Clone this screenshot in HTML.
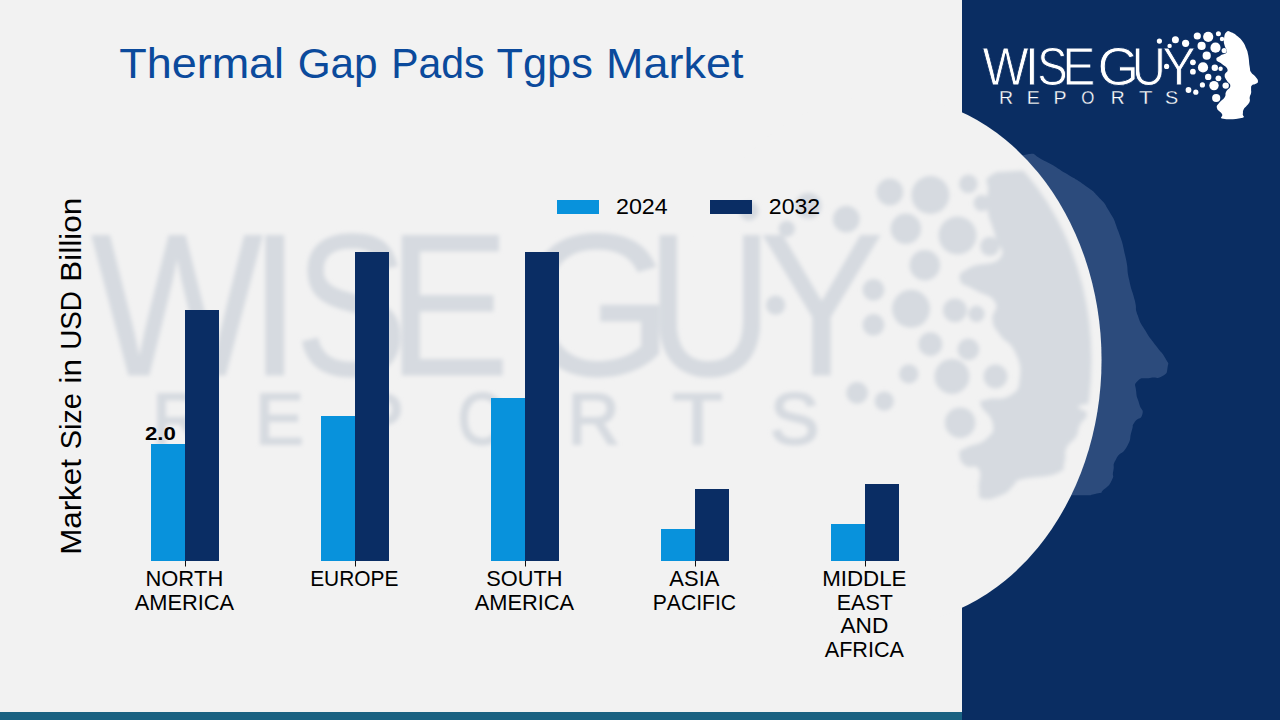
<!DOCTYPE html><html><head><meta charset="utf-8"><style>html,body{margin:0;padding:0;width:1280px;height:720px;overflow:hidden;background:#f2f2f2}svg{display:block}text{font-family:"Liberation Sans",sans-serif;font-kerning:none}</style></head><body>
<svg width="1280" height="720" viewBox="0 0 1280 720">
<defs><clipPath id="innerclip"><rect x="0" y="0" width="962" height="720"/><ellipse cx="884.8" cy="360" rx="206.75" ry="255.10000000000002"/></clipPath>
<clipPath id="lightclip"><rect x="0" y="0" width="962" height="720"/><ellipse cx="884.8" cy="360" rx="216.75" ry="265.1"/></clipPath><filter id="soft" x="-5%" y="-5%" width="110%" height="110%"><feGaussianBlur stdDeviation="2.0"/></filter></defs>
<rect width="1280" height="720" fill="#f2f2f2"/>
<rect x="962" y="0" width="318" height="720" fill="#0a2d62"/>
<path d="M985.00,190.00 C1005.67,185.33 998.00,177.87 1012.00,166.00 C1026.00,154.13 1016.27,156.17 1027.00,154.40 C1037.73,152.63 1031.27,154.40 1044.20,160.70 C1057.13,167.00 1051.97,164.87 1065.80,173.30 C1079.63,181.73 1074.87,178.17 1085.70,186.00 C1096.53,193.83 1090.47,188.37 1098.30,196.80 C1106.13,205.23 1102.57,199.90 1109.20,211.30 C1115.83,222.70 1112.80,215.97 1118.20,231.00 C1123.60,246.03 1121.73,240.07 1125.40,256.40 C1129.07,272.73 1126.10,265.47 1129.20,280.00 C1132.30,294.53 1131.87,288.23 1134.70,300.00 C1137.53,311.77 1134.17,305.13 1137.70,315.30 C1141.23,325.47 1139.20,320.33 1145.30,330.50 C1151.40,340.67 1149.37,336.63 1156.00,345.80 C1162.63,354.97 1161.33,350.87 1165.20,358.00 C1169.07,365.13 1168.63,361.10 1167.60,367.20 C1166.57,373.30 1167.97,372.73 1162.10,376.30 C1156.23,379.87 1158.13,376.37 1150.00,377.90 C1141.87,379.43 1142.30,376.33 1137.70,380.90 C1133.10,385.47 1135.70,383.97 1136.20,391.60 C1136.70,399.23 1137.17,396.17 1139.20,403.80 C1141.23,411.43 1143.80,408.40 1142.30,414.50 C1140.80,420.60 1138.27,416.50 1134.70,422.10 C1131.13,427.70 1134.17,423.13 1131.60,431.30 C1129.03,439.47 1132.10,437.43 1127.00,446.60 C1121.90,455.77 1120.87,450.67 1116.30,458.80 C1111.73,466.93 1114.80,463.87 1113.30,471.00 C1111.80,478.13 1114.87,474.10 1111.80,480.20 C1108.73,486.30 1109.70,484.73 1104.10,489.30 C1098.50,493.87 1106.20,491.87 1095.00,493.90 C1083.80,495.93 1102.17,495.03 1070.50,495.40 C1038.83,495.77 1040.17,503.47 1000.00,495.00 C959.83,486.53 966.67,575.00 950.00,470.00 C933.33,365.00 938.33,273.33 950.00,180.00 C961.67,86.67 964.33,194.67 985.00,190.00Z" fill="#2c4b7c"/>
<ellipse cx="884.8" cy="360" rx="216.75" ry="265.1" fill="#f2f2f2"/>
<g clip-path="url(#lightclip)"><g filter="url(#soft)"><g clip-path="url(#innerclip)"><g transform="matrix(3.72,0,0,3.72,-3564.13,58.07)">
<text transform="translate(982.53,85.20) scale(0.9011,1)" font-size="54.36" fill="#d6dae0" stroke="#d6dae0" stroke-width="0.25">W</text>
<text transform="translate(1024.85,85.20) scale(0.9468,1)" font-size="54.36" fill="#d6dae0" stroke="#d6dae0" stroke-width="0.25">I</text>
<text transform="translate(1037.33,85.20) scale(0.8372,1)" font-size="54.36" fill="#d6dae0" stroke="#d6dae0" stroke-width="0.25">S</text>
<text transform="translate(1062.13,85.20) scale(0.9130,1)" font-size="54.36" fill="#d6dae0" stroke="#d6dae0" stroke-width="0.25">E</text>
<text transform="translate(1097.61,85.20) scale(0.9834,1)" font-size="54.36" fill="#d6dae0" stroke="#d6dae0" stroke-width="0.25">G</text>
<text transform="translate(1131.86,85.20) scale(0.8681,1)" font-size="54.36" fill="#d6dae0" stroke="#d6dae0" stroke-width="0.25">U</text>
<text transform="translate(1162.20,85.20) scale(0.9241,1)" font-size="54.36" fill="#d6dae0" stroke="#d6dae0" stroke-width="0.25">Y</text>
<text transform="translate(999.00,103.80) scale(1.0183,1)" font-size="19.19" fill="#d6dae0" stroke="#d6dae0" stroke-width="0.55">R</text>
<text transform="translate(1026.70,103.80) scale(1.0193,1)" font-size="19.19" fill="#d6dae0" stroke="#d6dae0" stroke-width="0.55">E</text>
<text transform="translate(1053.60,103.80) scale(1.0185,1)" font-size="19.19" fill="#d6dae0" stroke="#d6dae0" stroke-width="0.55">P</text>
<text transform="translate(1081.20,103.80) scale(0.8781,1)" font-size="19.19" fill="#d6dae0" stroke="#d6dae0" stroke-width="0.55">O</text>
<text transform="translate(1110.72,103.80) scale(1.0051,1)" font-size="19.19" fill="#d6dae0" stroke="#d6dae0" stroke-width="0.55">R</text>
<text transform="translate(1138.90,103.80) scale(1.1522,1)" font-size="19.19" fill="#d6dae0" stroke="#d6dae0" stroke-width="0.55">T</text>
<text transform="translate(1165.10,103.80) scale(1.0321,1)" font-size="19.19" fill="#d6dae0" stroke="#d6dae0" stroke-width="0.55">S</text>
<circle cx="1159.4" cy="41.1" r="2.6" fill="#d6dae0"/>
<circle cx="1175.4" cy="39.7" r="3.5" fill="#d6dae0"/>
<circle cx="1169.6" cy="45.9" r="2.2" fill="#d6dae0"/>
<circle cx="1185.6" cy="43.3" r="3.6" fill="#d6dae0"/>
<circle cx="1197.3" cy="36" r="3.6" fill="#d6dae0"/>
<circle cx="1208.2" cy="36.8" r="5.1" fill="#d6dae0"/>
<circle cx="1218.4" cy="33.8" r="2.5" fill="#d6dae0"/>
<circle cx="1222" cy="39" r="2.2" fill="#d6dae0"/>
<circle cx="1201.6" cy="45.9" r="4.1" fill="#d6dae0"/>
<circle cx="1215.5" cy="47.7" r="5.1" fill="#d6dae0"/>
<circle cx="1224.2" cy="50.6" r="2.6" fill="#d6dae0"/>
<circle cx="1206.7" cy="55.7" r="4.1" fill="#d6dae0"/>
<circle cx="1192.9" cy="62.3" r="2.9" fill="#d6dae0"/>
<circle cx="1203" cy="67.4" r="5.1" fill="#d6dae0"/>
<circle cx="1214.8" cy="67.8" r="3.2" fill="#d6dae0"/>
<circle cx="1220.6" cy="68.8" r="2.2" fill="#d6dae0"/>
<circle cx="1192.9" cy="71.7" r="2.9" fill="#d6dae0"/>
<circle cx="1208.2" cy="76.9" r="3.2" fill="#d6dae0"/>
<circle cx="1218.4" cy="78.3" r="2.9" fill="#d6dae0"/>
<circle cx="1202.4" cy="84.9" r="2.6" fill="#d6dae0"/>
<circle cx="1214" cy="85.6" r="4.7" fill="#d6dae0"/>
<circle cx="1225.7" cy="85.6" r="3.2" fill="#d6dae0"/>
<circle cx="1188.5" cy="90" r="2.9" fill="#d6dae0"/>
<circle cx="1195.8" cy="92.2" r="2.6" fill="#d6dae0"/>
<circle cx="1216.2" cy="98" r="4.1" fill="#d6dae0"/>
<circle cx="1166.6" cy="66.4" r="2.6" fill="#d6dae0"/>
</g>
<path d="M990.00,176.00 C997.20,170.93 996.33,172.33 1015.00,171.00 C1033.67,169.67 1010.67,171.00 1060.00,171.00 C1109.33,171.00 1162.67,109.93 1200.00,171.00 C1237.33,232.07 1228.88,338.05 1200.00,400.00 C1171.12,461.95 1121.59,399.30 1091.70,403.30 C1061.81,407.30 1091.02,409.29 1087.90,415.00 C1084.78,420.71 1083.12,418.99 1080.00,424.70 C1076.88,430.41 1079.80,430.19 1076.20,436.40 C1072.60,442.61 1069.62,441.25 1066.50,448.00 C1063.38,454.75 1067.11,454.93 1064.50,461.70 C1061.89,468.47 1068.11,468.73 1056.70,473.40 C1045.29,478.07 1033.09,476.11 1021.70,479.20 C1010.31,482.29 1019.17,480.84 1014.00,485.00 C1008.83,489.16 1010.62,491.15 1002.30,494.80 C993.98,498.45 989.04,500.25 982.80,498.70 C976.56,497.15 979.94,496.79 978.90,489.00 C977.86,481.21 982.53,475.74 978.90,469.50 C975.27,463.26 970.47,469.76 965.30,465.60 C960.13,461.44 959.50,458.59 959.50,453.90 C959.50,449.21 958.05,452.13 965.30,448.00 C972.55,443.87 979.45,445.12 986.70,438.40 C993.95,431.68 994.05,431.63 992.50,422.80 C990.95,413.97 982.45,411.51 980.90,405.30 C979.35,399.09 978.94,402.09 986.70,399.50 C994.46,396.91 1001.17,401.33 1010.00,395.60 C1018.83,389.87 1018.47,389.63 1019.80,378.00 C1021.13,366.37 1020.28,363.47 1015.00,352.00 C1009.72,340.53 1006.00,343.53 1000.00,335.00 C994.00,326.47 993.83,328.80 992.50,320.00 C991.17,311.20 999.67,310.00 995.00,302.00 C990.33,294.00 984.33,295.87 975.00,290.00 C965.67,284.13 961.33,286.00 960.00,280.00 C958.67,274.00 959.33,273.37 970.00,267.50 C980.67,261.63 993.33,266.67 1000.00,258.00 C1006.67,249.33 998.33,247.80 995.00,235.00 C991.67,222.20 989.37,222.00 987.50,210.00 C985.63,198.00 987.33,199.07 988.00,190.00 C988.67,180.93 982.80,181.07 990.00,176.00Z" fill="#d6dae0"/>
</g></g></g>
<rect x="0" y="712" width="962" height="8" fill="#1a6282"/>
<text transform="translate(982.53,85.20) scale(0.9011,1)" font-size="54.36" fill="#ffffff" stroke="#0a2d62" stroke-width="0.9">W</text>
<text transform="translate(1024.85,85.20) scale(0.9468,1)" font-size="54.36" fill="#ffffff" stroke="#0a2d62" stroke-width="0.9">I</text>
<text transform="translate(1037.33,85.20) scale(0.8372,1)" font-size="54.36" fill="#ffffff" stroke="#0a2d62" stroke-width="0.9">S</text>
<text transform="translate(1062.13,85.20) scale(0.9130,1)" font-size="54.36" fill="#ffffff" stroke="#0a2d62" stroke-width="0.9">E</text>
<text transform="translate(1097.61,85.20) scale(0.9834,1)" font-size="54.36" fill="#ffffff" stroke="#0a2d62" stroke-width="0.9">G</text>
<text transform="translate(1131.86,85.20) scale(0.8681,1)" font-size="54.36" fill="#ffffff" stroke="#0a2d62" stroke-width="0.9">U</text>
<text transform="translate(1162.20,85.20) scale(0.9241,1)" font-size="54.36" fill="#ffffff" stroke="#0a2d62" stroke-width="0.9">Y</text>
<text transform="translate(999.00,103.80) scale(1.0183,1)" font-size="19.19" fill="#ffffff" stroke="#0a2d62" stroke-width="0.3">R</text>
<text transform="translate(1026.70,103.80) scale(1.0193,1)" font-size="19.19" fill="#ffffff" stroke="#0a2d62" stroke-width="0.3">E</text>
<text transform="translate(1053.60,103.80) scale(1.0185,1)" font-size="19.19" fill="#ffffff" stroke="#0a2d62" stroke-width="0.3">P</text>
<text transform="translate(1081.20,103.80) scale(0.8781,1)" font-size="19.19" fill="#ffffff" stroke="#0a2d62" stroke-width="0.3">O</text>
<text transform="translate(1110.72,103.80) scale(1.0051,1)" font-size="19.19" fill="#ffffff" stroke="#0a2d62" stroke-width="0.3">R</text>
<text transform="translate(1138.90,103.80) scale(1.1522,1)" font-size="19.19" fill="#ffffff" stroke="#0a2d62" stroke-width="0.3">T</text>
<text transform="translate(1165.10,103.80) scale(1.0321,1)" font-size="19.19" fill="#ffffff" stroke="#0a2d62" stroke-width="0.3">S</text>
<circle cx="1159.4" cy="41.1" r="2.6" fill="#ffffff"/>
<circle cx="1175.4" cy="39.7" r="3.5" fill="#ffffff"/>
<circle cx="1169.6" cy="45.9" r="2.2" fill="#ffffff"/>
<circle cx="1185.6" cy="43.3" r="3.6" fill="#ffffff"/>
<circle cx="1197.3" cy="36" r="3.6" fill="#ffffff"/>
<circle cx="1208.2" cy="36.8" r="5.1" fill="#ffffff"/>
<circle cx="1218.4" cy="33.8" r="2.5" fill="#ffffff"/>
<circle cx="1222" cy="39" r="2.2" fill="#ffffff"/>
<circle cx="1201.6" cy="45.9" r="4.1" fill="#ffffff"/>
<circle cx="1215.5" cy="47.7" r="5.1" fill="#ffffff"/>
<circle cx="1224.2" cy="50.6" r="2.6" fill="#ffffff"/>
<circle cx="1206.7" cy="55.7" r="4.1" fill="#ffffff"/>
<circle cx="1192.9" cy="62.3" r="2.9" fill="#ffffff"/>
<circle cx="1203" cy="67.4" r="5.1" fill="#ffffff"/>
<circle cx="1214.8" cy="67.8" r="3.2" fill="#ffffff"/>
<circle cx="1220.6" cy="68.8" r="2.2" fill="#ffffff"/>
<circle cx="1192.9" cy="71.7" r="2.9" fill="#ffffff"/>
<circle cx="1208.2" cy="76.9" r="3.2" fill="#ffffff"/>
<circle cx="1218.4" cy="78.3" r="2.9" fill="#ffffff"/>
<circle cx="1202.4" cy="84.9" r="2.6" fill="#ffffff"/>
<circle cx="1214" cy="85.6" r="4.7" fill="#ffffff"/>
<circle cx="1225.7" cy="85.6" r="3.2" fill="#ffffff"/>
<circle cx="1188.5" cy="90" r="2.9" fill="#ffffff"/>
<circle cx="1195.8" cy="92.2" r="2.6" fill="#ffffff"/>
<circle cx="1216.2" cy="98" r="4.1" fill="#ffffff"/>
<circle cx="1166.6" cy="66.4" r="2.6" fill="#ffffff"/>
<path d="M1226.50,31.90 C1228.55,30.22 1228.85,31.48 1231.70,32.60 C1234.55,33.72 1234.24,33.67 1237.20,36.10 C1240.16,38.53 1240.39,38.37 1242.80,41.70 C1245.21,45.03 1244.78,44.89 1246.25,48.60 C1247.72,52.31 1247.38,50.77 1248.30,55.60 C1249.22,60.43 1248.95,62.27 1249.70,66.70 C1250.45,71.13 1249.61,69.61 1251.10,72.20 C1252.59,74.79 1253.46,73.99 1255.30,76.40 C1257.14,78.81 1258.00,79.22 1258.00,81.25 C1258.00,83.28 1256.95,82.89 1255.30,84.00 C1253.65,85.11 1252.92,84.09 1251.80,85.40 C1250.68,86.71 1251.29,86.87 1251.10,88.90 C1250.91,90.93 1251.47,90.79 1251.10,93.00 C1250.73,95.21 1250.07,94.96 1249.70,97.20 C1249.33,99.44 1250.45,99.16 1249.70,101.40 C1248.95,103.64 1248.55,103.39 1246.90,105.60 C1245.25,107.81 1244.59,107.49 1243.50,109.70 C1242.41,111.91 1243.36,111.69 1242.80,113.90 C1242.24,116.11 1246.60,116.71 1241.40,118.00 C1236.20,119.29 1228.47,119.84 1223.30,118.75 C1218.13,117.66 1223.68,116.69 1222.00,113.90 C1220.32,111.11 1217.75,111.26 1217.00,108.30 C1216.25,105.34 1217.15,105.76 1219.20,102.80 C1221.25,99.84 1222.86,100.16 1224.70,97.20 C1226.54,94.24 1224.61,94.66 1226.10,91.70 C1227.59,88.74 1230.11,89.06 1230.30,86.10 C1230.49,83.14 1228.29,83.56 1226.80,80.60 C1225.31,77.64 1224.51,77.99 1224.70,75.00 C1224.89,72.01 1228.25,72.36 1227.50,69.40 C1226.75,66.44 1224.86,66.49 1221.90,63.90 C1218.94,61.31 1216.75,61.91 1216.40,59.70 C1216.05,57.49 1217.83,57.63 1220.60,55.60 C1223.37,53.57 1225.71,54.71 1226.80,52.10 C1227.89,49.49 1225.45,49.32 1224.70,45.80 C1223.95,42.28 1223.52,42.61 1224.00,38.90 C1224.48,35.19 1224.45,33.58 1226.50,31.90Z" fill="#ffffff"/>
<text transform="translate(119.19,78.00) scale(1.0671,1)" font-size="42.15" fill="#0b4a9c">Thermal</text>
<text transform="translate(297.63,78.00) scale(1.0037,1)" font-size="42.15" fill="#0b4a9c">Gap</text>
<text transform="translate(391.19,78.00) scale(0.9717,1)" font-size="42.15" fill="#0b4a9c">Pads</text>
<text transform="translate(496.57,78.00) scale(1.0272,1)" font-size="42.15" fill="#0b4a9c">Tgps</text>
<text transform="translate(606.08,78.00) scale(1.0662,1)" font-size="42.15" fill="#0b4a9c">Market</text>
<rect x="557" y="200" width="42" height="14" fill="#0892dc"/>
<rect x="710" y="200" width="42" height="14" fill="#0a2d64"/>
<text transform="translate(616.03,214.00) scale(1.0372,1)" font-size="22.38" fill="#000">2024</text>
<text transform="translate(768.84,214.00) scale(1.0306,1)" font-size="22.38" fill="#000">2032</text>
<rect x="151" y="444" width="34" height="117" fill="#0892dc"/>
<rect x="185" y="310" width="34" height="251" fill="#0a2d64"/>
<rect x="185" y="561" width="1" height="5.5" fill="#111"/>
<rect x="321" y="416" width="34" height="145" fill="#0892dc"/>
<rect x="355" y="252" width="34" height="309" fill="#0a2d64"/>
<rect x="355" y="561" width="1" height="5.5" fill="#111"/>
<rect x="491" y="398" width="34" height="163" fill="#0892dc"/>
<rect x="525" y="252" width="34" height="309" fill="#0a2d64"/>
<rect x="525" y="561" width="1" height="5.5" fill="#111"/>
<rect x="661" y="529" width="34" height="32" fill="#0892dc"/>
<rect x="695" y="489" width="34" height="72" fill="#0a2d64"/>
<rect x="695" y="561" width="1" height="5.5" fill="#111"/>
<rect x="831" y="524" width="34" height="37" fill="#0892dc"/>
<rect x="865" y="484" width="34" height="77" fill="#0a2d64"/>
<rect x="865" y="561" width="1" height="5.5" fill="#111"/>
<text transform="translate(145.41,586.00) scale(0.9798,1)" font-size="22.38" fill="#000">NORTH</text>
<text transform="translate(134.70,609.50) scale(0.9746,1)" font-size="22.38" fill="#000">AMERICA</text>
<text transform="translate(310.15,586.00) scale(0.9355,1)" font-size="22.38" fill="#000">EUROPE</text>
<text transform="translate(486.35,586.00) scale(0.9724,1)" font-size="22.38" fill="#000">SOUTH</text>
<text transform="translate(474.70,609.50) scale(0.9746,1)" font-size="22.38" fill="#000">AMERICA</text>
<text transform="translate(669.37,586.00) scale(0.9813,1)" font-size="22.38" fill="#000">ASIA</text>
<text transform="translate(652.67,609.50) scale(0.9455,1)" font-size="22.38" fill="#000">PACIFIC</text>
<text transform="translate(822.16,586.00) scale(0.9975,1)" font-size="22.38" fill="#000">MIDDLE</text>
<text transform="translate(836.73,609.50) scale(0.9626,1)" font-size="22.38" fill="#000">EAST</text>
<text transform="translate(840.41,633.00) scale(1.0134,1)" font-size="22.38" fill="#000">AND</text>
<text transform="translate(824.77,656.50) scale(0.9656,1)" font-size="22.38" fill="#000">AFRICA</text>
<text transform="translate(145.03,440.00) scale(1.1940,1)" font-size="18.60" fill="#000" font-weight="bold">2.0</text>
<g transform="translate(80.7,552.3) rotate(-90)"><text transform="translate(-2.57,0.00) scale(1.0672,1)" font-size="29.36" fill="#000">Market</text>
<text transform="translate(102.96,0.00) scale(0.9846,1)" font-size="29.36" fill="#000">Size</text>
<text transform="translate(168.71,0.00) scale(1.0704,1)" font-size="29.36" fill="#000">in</text>
<text transform="translate(202.57,0.00) scale(0.9469,1)" font-size="29.36" fill="#000">USD</text>
<text transform="translate(270.54,0.00) scale(1.0718,1)" font-size="29.36" fill="#000">Billion</text></g>
</svg></body></html>
